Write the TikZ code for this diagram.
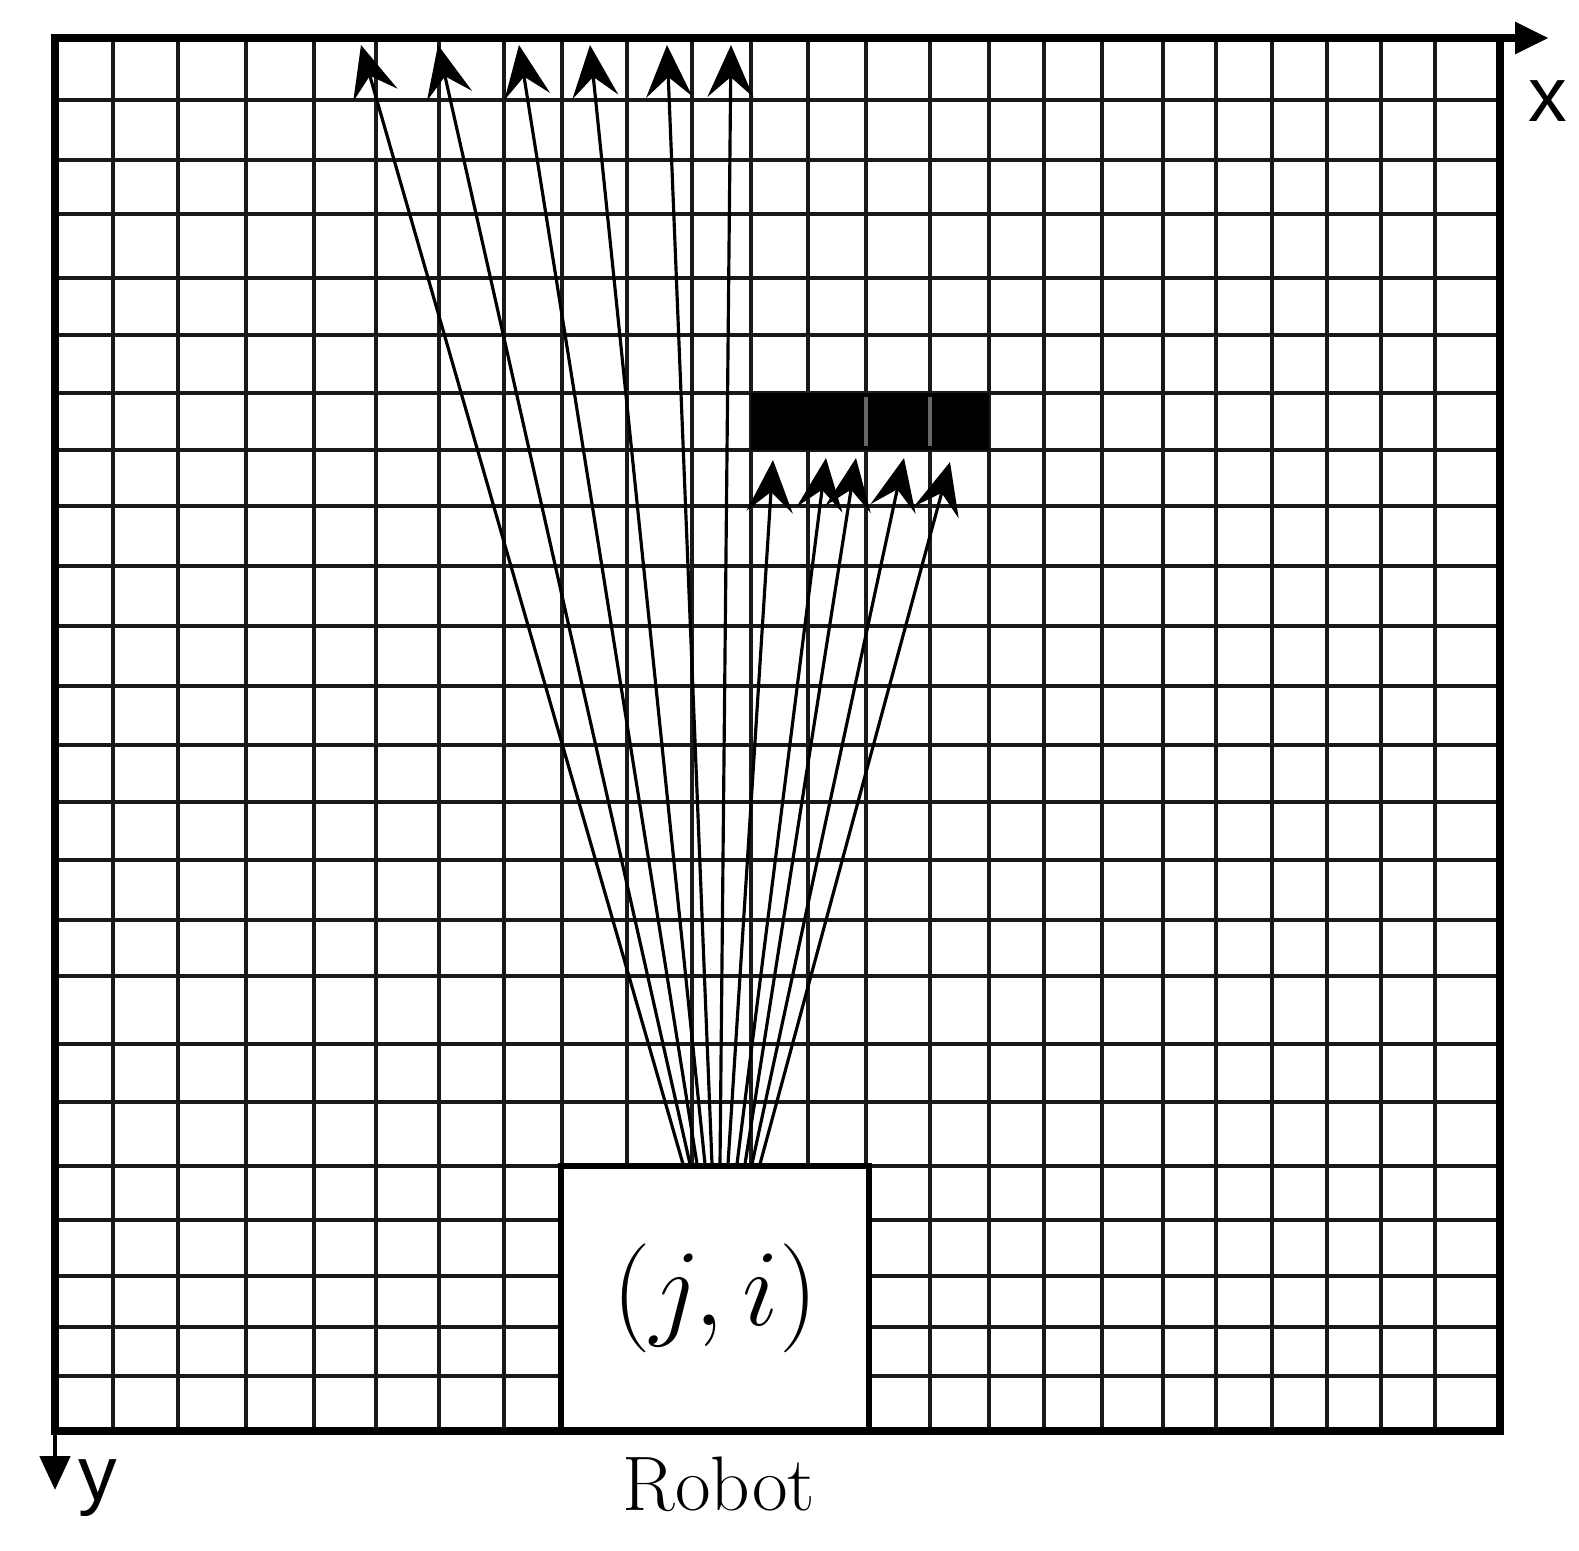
\RequirePackage{fix-cm}
\documentclass[tikz,border=0pt]{standalone}
\usepackage{fontspec}
\usepackage{tikz}
\usetikzlibrary{arrows.meta, positioning}
\newfontfamily\axisfont{Liberation Sans}

\begin{document}
\begin{tikzpicture}[
    x=0.01cm, y=-0.01cm,
    gridline/.style={line width=1.2pt, black!90},
    frame/.style={line width=2.4pt},
    robotbox/.style={draw, line width=1.8pt, fill=white, minimum width=3.08cm, minimum height=2.64cm, inner sep=0pt, font=\fontsize{31}{36}\selectfont},
    ray/.style={-{Stealth[length=5.2mm, width=4.6mm, inset=2mm]}, line width=0.9pt},
    axis/.style={-{Triangle[length=3.4mm, width=3mm]}},
    axislabel/.style={font=\axisfont\fontsize{22}{26}\selectfont, inner sep=0pt}
]
    \useasboundingbox (0,0) rectangle (1579,1550);

    % Grid
    \foreach \gx in {113,178,246,314,376,439,504,562,627,692,751,808,866,930,989,1044,1102,1163,1216,1272,1327,1381,1435}
        \draw[gridline] (\gx,38) -- (\gx,1431);
    \foreach \gy in {100,160,214,278,335,393,450,506,566,626,686,745,802,860,920,976,1044,1102,1166,1220,1276,1327,1376}
        \draw[gridline] (55,\gy) -- (1500,\gy);

    % Obstacle
    \fill (751,393) rectangle (989,450);
    \foreach \gx in {866,930}
        \draw[line width=1.4pt, black!60] (\gx,397) -- (\gx,446);

    % Robot
    \node[robotbox] (robot) at (715,1298) {$(j,i)$};
    \node[font=\fontsize{22}{26}\selectfont, anchor=base] (robotlabel) at (719,1510) {Robot};

    % Frame and axes
    \draw[frame] (55,38) rectangle (1500,1431);
    \coordinate (xstart) at (1500,38);
    \coordinate (xtip) at (1549,38);
    \coordinate (ystart) at (55,1431);
    \coordinate (ytip) at (55,1490);
    \draw[frame, axis] (xstart) -- (xtip);
    \draw[line width=1.4pt, axis] (ystart) -- (ytip);
    \node[axislabel, anchor=base] (xlabel) at (1548,121) {x};
    \node[axislabel, anchor=base] (ylabel) at (98,1500) {y};

    % Rays to the top edge
    \foreach \i/\sx/\tx in {1/683/361, 2/690/438, 3/697/519, 4/705/590, 5/712/667, 6/720/731} {
        \coordinate (s\i) at (\sx,1164);
        \coordinate (t\i) at (\tx,45);
        \draw[ray] (s\i) -- (t\i);
    }

    % Rays to the obstacle
    \foreach \i/\sx/\tx/\ty in {7/728/773/460, 8/737/826/458, 9/745/856/458, 10/752/904/458, 11/760/950/462} {
        \coordinate (s\i) at (\sx,1164);
        \coordinate (t\i) at (\tx,\ty);
        \draw[ray] (s\i) -- (t\i);
    }
\end{tikzpicture}
\end{document}
